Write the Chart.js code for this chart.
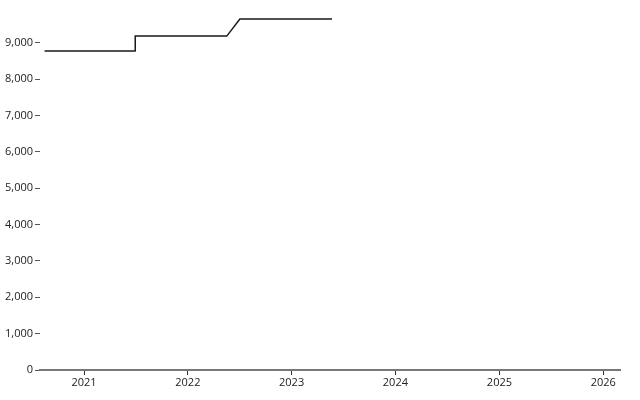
<!DOCTYPE html>
<html>
<head>
<meta charset="utf-8">
<script src="https://cdn.jsdelivr.net/npm/chart.js@4"></script>
<style>
  html, body { margin: 0; padding: 0; background: #fff; }
  #wrap { width: 640px; height: 400px; position: relative; }
</style>
</head>
<body>
<div id="wrap"><canvas id="c" width="640" height="400"></canvas></div>
<script>
// Data
const dates = ['2020-08-15', '2021-07-02', '2021-06-30', '2022-05-18', '2022-07-03', '2023-05-23'];
const values = [8770, 8770, 9180, 9180, 9650, 9650];
const yearTicks = [2021, 2022, 2023, 2024, 2025, 2026];
const yTicks = [0, 1000, 2000, 3000, 4000, 5000, 6000, 7000, 8000, 9000];
const xDomain = ['2020-07-30', '2026-03-01'];
const yMax = 9650;

const toMs = s => Date.parse(s + 'T00:00:00Z');
const points = dates.map((d, i) => ({ x: toMs(d), y: values[i] }));

new Chart(document.getElementById('c'), {
  type: 'line',
  data: {
    datasets: [{
      data: points,
      borderColor: '#1a1a1a',
      borderWidth: 1.5,
      pointRadius: 0,
      fill: false,
      tension: 0,
      clip: false
    }]
  },
  options: {
    responsive: false,
    animation: false,
    events: [],
    layout: { padding: { top: 19, right: 20, left: 0, bottom: 0 } },
    plugins: { legend: { display: false }, tooltip: { enabled: false } },
    scales: {
      x: {
        type: 'linear',
        min: toMs(xDomain[0]),
        max: toMs(xDomain[1]),
        afterBuildTicks: s => { s.ticks = yearTicks.map(y => ({ value: Date.UTC(y, 0, 1), label: String(y) })); },
        afterFit: s => { s.height = 30; },
        ticks: {
          autoSkip: false,
          maxRotation: 0,
          padding: 1,
          color: '#222',
          font: { family: 'Open Sans', size: 11 },
          callback: v => String(new Date(v).getUTCFullYear())
        },
        grid: { drawOnChartArea: false, tickLength: 5, tickColor: '#333', tickWidth: 1 },
        border: { display: true, color: '#777', width: 2 }
      },
      y: {
        min: 0,
        max: yMax,
        afterBuildTicks: s => { s.ticks = yTicks.map(v => ({ value: v })); },
        afterFit: s => { s.width = 40; },
        ticks: {
          autoSkip: false,
          padding: 2,
          color: '#222',
          font: { family: 'Open Sans', size: 11 },
          callback: v => v.toLocaleString('en-US')
        },
        grid: { drawOnChartArea: false, tickLength: 5, tickColor: '#555', tickWidth: 1 },
        border: { display: false }
      }
    }
  }
});
</script>
</body>
</html>
